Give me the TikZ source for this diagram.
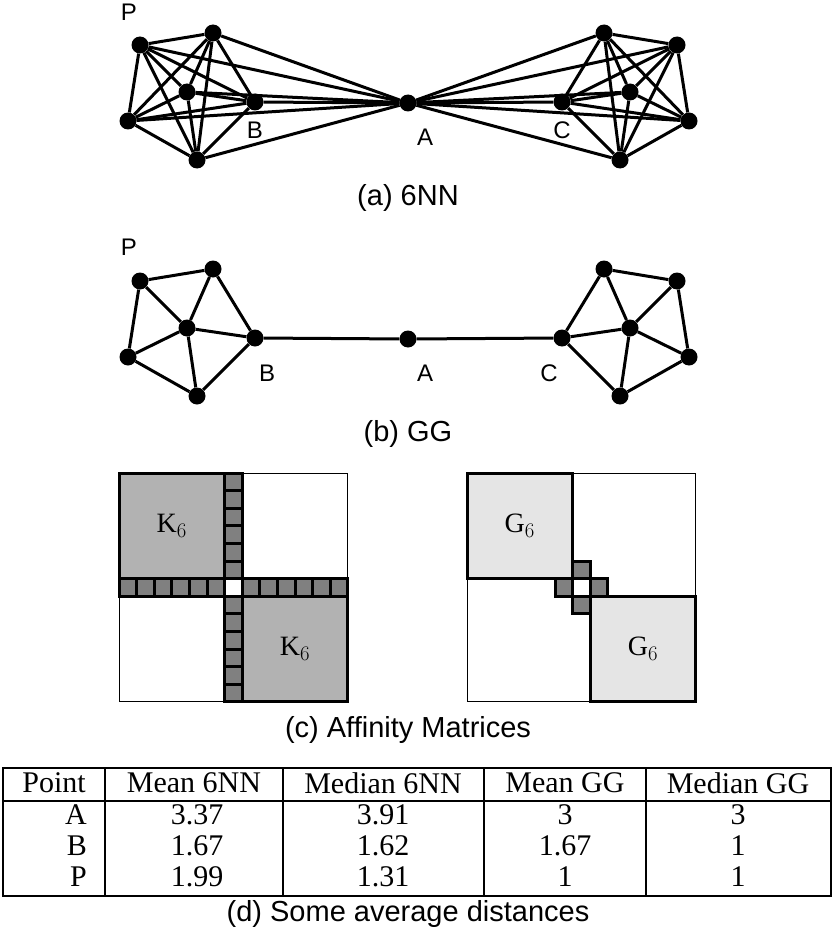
\documentclass[tikz,border=0pt]{standalone}
\usepackage{fontspec}
\setmainfont{Liberation Serif}
\setsansfont{Liberation Sans}
\usetikzlibrary{positioning,backgrounds}
\tikzset{
  x=1pt, y=-1pt,
  dot/.style={circle, fill=black, inner sep=0pt, minimum size=17pt},
  edge/.style={line width=3pt, black},
  lab/.style={font=\sffamily\fontsize{24}{26}\selectfont, inner sep=0pt},
  caption/.style={font=\sffamily\fontsize{29}{32}\selectfont, inner sep=0pt},
  cell/.style={draw=black, line width=3pt, fill=black!50},
  block/.style={draw=black, line width=3pt},
  blocklab/.style={font=\rmfamily\fontsize{28}{30}\selectfont, inner sep=0pt},
  cellt/.style={font=\rmfamily\fontsize{30}{32}\selectfont, inner sep=0pt},
}
\newcommand\cs{17.6}
\begin{document}
\begin{tikzpicture}
  \useasboundingbox (0,0) rectangle (833,931);

  % (a) 6NN
  \foreach \n/\x/\y in {1/140/45, 2/213/33, 3/187/92, 4/255/102, 5/128/121, 6/197/160} {
    \node[dot] (a\n) at (\x,\y) {};
    \node[dot] (c\n) at ({817-\x},\y) {};
    \node[dot] (ga\n) at (\x,{\y+236}) {};
    \node[dot] (gc\n) at ({817-\x},{\y+236}) {};
  }
  \node[dot] (A) at (408,103) {};
  \node[dot] (gA) at (408,339) {};
  \begin{scope}[on background layer]
    \foreach \i in {1,...,5} {
      \pgfmathtruncatemacro\k{\i+1}
      \foreach \j in {\k,...,6} {
        \draw[edge] (a\i) -- (a\j);
        \draw[edge] (c\i) -- (c\j);
      }
    }
    \foreach \i in {1,...,6} {
      \draw[edge] (a\i) -- (A);
      \draw[edge] (c\i) -- (A);
    }
    % (b) GG
    \foreach \i/\j in {1/2, 1/5, 1/3, 2/3, 2/4, 3/4, 3/5, 3/6, 5/6, 6/4} {
      \draw[edge] (ga\i) -- (ga\j);
      \draw[edge] (gc\i) -- (gc\j);
    }
    \draw[edge] (ga4) -- (gA) -- (gc4);
  \end{scope}

  \node[lab] (lP) at (129,12) {P};
  \node[lab] (lB) at (255,130) {B};
  \node[lab] (lA) at (425,137) {A};
  \node[lab] (lC) at (562,130) {C};
  \node[caption] (capa) at (408,198) {(a) 6NN};

  \node[lab] (glP) at (129,247) {P};
  \node[lab] (glB) at (267,373) {B};
  \node[lab] (glA) at (425,373) {A};
  \node[lab] (glC) at (549,373) {C};
  \node[caption] (capb) at (408,434) {(b) GG};

  % (c) affinity matrices
  \draw[line width=1pt] (119,473) rectangle ++({13*\cs},{13*\cs});
  \draw[block, fill=black!30] (119,473) rectangle ++({6*\cs},{6*\cs});
  \draw[block, fill=black!30] ({119+7*\cs},{473+7*\cs}) rectangle ++({6*\cs},{6*\cs});
  \foreach \i in {0,...,5,7,8,...,12} {
    \draw[cell] ({119+6*\cs},{473+\i*\cs}) rectangle ++(\cs,\cs);
    \draw[cell] ({119+\i*\cs},{473+6*\cs}) rectangle ++(\cs,\cs);
  }
  \node[blocklab] (k1) at ({119+3*\cs},{473+3*\cs}) {K$_6$};
  \node[blocklab] (k2) at ({119+10*\cs},{473+10*\cs}) {K$_6$};

  \draw[line width=1pt] (467,473) rectangle ++({13*\cs},{13*\cs});
  \draw[block, fill=black!10] (467,473) rectangle ++({6*\cs},{6*\cs});
  \draw[block, fill=black!10] ({467+7*\cs},{473+7*\cs}) rectangle ++({6*\cs},{6*\cs});
  \foreach \c/\r in {6/5, 5/6, 7/6, 6/7} {
    \draw[cell] ({467+\c*\cs},{473+\r*\cs}) rectangle ++(\cs,\cs);
  }
  \node[blocklab] (g1) at ({467+3*\cs},{473+3*\cs}) {G$_6$};
  \node[blocklab] (g2) at ({467+10*\cs},{473+10*\cs}) {G$_6$};
  \node[caption] (capc) at (408,730) {(c) Affinity Matrices};

  % (d) table
  \draw[line width=1.2pt] (3,768) rectangle (831,896);
  \draw[line width=1.2pt] (3,801) -- (831,801);
  \foreach \x in {105,283,484,646} \draw[line width=1.2pt] (\x,768) -- (\x,896);
  \foreach \t/\x [count=\n] in {Point/54, Mean 6NN/194, Median 6NN/383, Mean GG/565, Median GG/738}
    \node[cellt] (h\n) at (\x,783) {\t};
  \foreach \p/\a/\b/\c/\d/\y in {A/3.37/3.91/3/3/815, B/1.67/1.62/1.67/1/846, P/1.99/1.31/1/1/877} {
    \node[cellt, anchor=east] (r\p0) at (87,\y) {\p};
    \node[cellt] (r\p1) at (197,\y) {\a};
    \node[cellt] (r\p2) at (383,\y) {\b};
    \node[cellt] (r\p3) at (565,\y) {\c};
    \node[cellt] (r\p4) at (738,\y) {\d};
  }
  \node[caption] (capd) at (408,914) {(d) Some average distances};
\end{tikzpicture}
\end{document}
